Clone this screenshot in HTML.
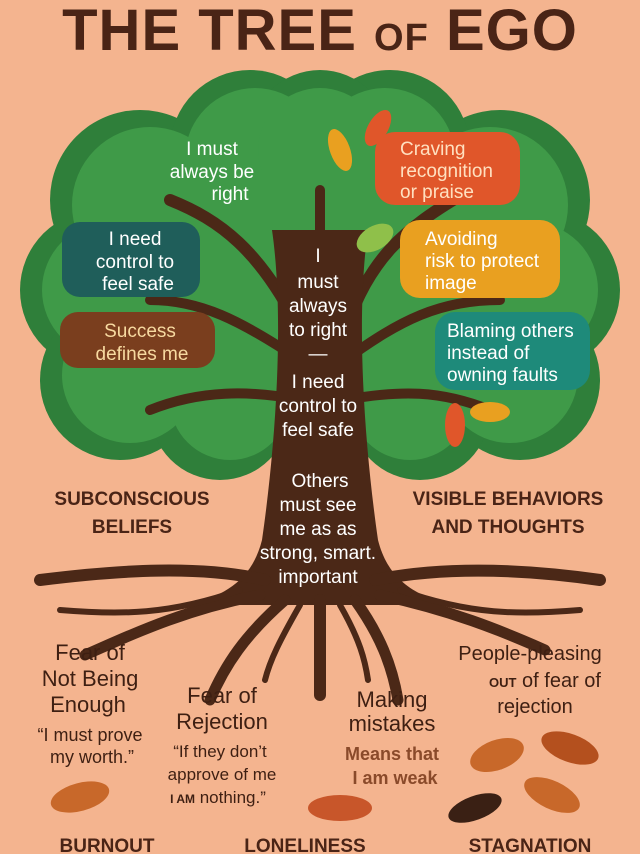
<!DOCTYPE html>
<html><head><meta charset="utf-8"><style>
html,body{margin:0;padding:0;background:#f4b48f;}
svg{display:block}
text{font-family:"Liberation Sans",sans-serif;}
</style></head><body>
<svg width="640" height="854" viewBox="0 0 640 854" xmlns="http://www.w3.org/2000/svg">
<rect width="640" height="854" fill="#f4b48f"/>
<text x="320" y="50" text-anchor="middle" font-size="58" font-weight="bold" fill="#4a2416" letter-spacing="1">THE TREE <tspan font-size="38">OF</tspan> EGO</text>
<g fill="#2f7f3a">
<circle cx="140" cy="200" r="90"/><circle cx="100" cy="290" r="80"/><circle cx="120" cy="380" r="80"/>
<circle cx="500" cy="200" r="90"/><circle cx="540" cy="290" r="80"/><circle cx="520" cy="380" r="80"/>
<circle cx="250" cy="150" r="80"/><circle cx="390" cy="150" r="80"/><circle cx="320" cy="140" r="70"/>
<circle cx="220" cy="410" r="70"/><circle cx="420" cy="410" r="70"/><rect x="60" y="160" width="520" height="270"/>
</g>
<g fill="#3f9a48">
<circle cx="150" cy="205" r="78"/><circle cx="110" cy="290" r="68"/><circle cx="130" cy="375" r="68"/>
<circle cx="490" cy="205" r="78"/><circle cx="530" cy="290" r="68"/><circle cx="510" cy="375" r="68"/>
<circle cx="255" cy="158" r="70"/><circle cx="385" cy="158" r="70"/><circle cx="320" cy="150" r="62"/>
<circle cx="230" cy="400" r="60"/><circle cx="410" cy="400" r="60"/><rect x="80" y="170" width="480" height="250"/>
</g>
<g stroke="#4b2817" fill="none" stroke-linecap="round">
<path d="M300 330 C260 250 220 220 170 200" stroke-width="12"/>
<path d="M300 360 C240 320 200 300 150 300" stroke-width="10"/>
<path d="M300 400 C250 390 200 390 150 410" stroke-width="10"/>
<path d="M345 330 C370 260 400 230 470 190" stroke-width="12"/>
<path d="M345 360 C400 320 440 300 500 300" stroke-width="10"/>
<path d="M345 400 C400 390 440 390 490 410" stroke-width="10"/>
<path d="M320 260 L320 190" stroke-width="10"/>
</g>
<path d="M272 230 C285 320 275 450 262 540 C252 580 225 595 190 605 L450 605 C415 595 388 580 378 540 C365 450 355 320 368 230 Z" fill="#4b2817"/>
<g stroke="#4b2817" fill="none" stroke-linecap="round">
<path d="M265 580 C200 565 120 570 40 580" stroke-width="12"/>
<path d="M260 595 C180 610 120 640 85 655" stroke-width="11"/>
<path d="M285 600 C245 635 225 665 210 700" stroke-width="11"/>
<path d="M320 600 L320 695" stroke-width="12"/>
<path d="M355 600 C380 635 392 665 398 700" stroke-width="11"/>
<path d="M380 595 C450 610 500 630 545 650" stroke-width="11"/>
<path d="M375 580 C450 565 530 570 600 580" stroke-width="12"/>
<path d="M240 590 C170 615 120 615 60 610" stroke-width="6"/>
<path d="M400 590 C470 615 520 615 580 610" stroke-width="6"/>
<path d="M300 605 C280 640 270 660 265 680" stroke-width="6"/>
<path d="M340 605 C360 640 365 660 368 680" stroke-width="6"/>
</g>
<rect x="62" y="222" width="138" height="75" rx="18" fill="#1f5e5a"/>
<rect x="60" y="312" width="155" height="56" rx="18" fill="#7a3e1e"/>
<rect x="375" y="132" width="145" height="73" rx="20" fill="#e0562a"/>
<rect x="400" y="220" width="160" height="78" rx="20" fill="#e9a020"/>
<rect x="435" y="312" width="155" height="78" rx="20" fill="#1e8a7a"/>
<g>
<ellipse cx="378" cy="128" rx="10" ry="20" fill="#e0562a" transform="rotate(30 378 128)"/>
<ellipse cx="340" cy="150" rx="10" ry="22" fill="#e9a020" transform="rotate(-20 340 150)"/>
<ellipse cx="375" cy="238" rx="20" ry="12" fill="#8fc04a" transform="rotate(-30 375 238)"/>
<ellipse cx="455" cy="425" rx="10" ry="22" fill="#e0562a"/>
<ellipse cx="490" cy="412" rx="20" ry="10" fill="#e9a020"/>
<ellipse cx="80" cy="797" rx="30" ry="14" fill="#c8682a" transform="rotate(-15 80 797)"/>
<ellipse cx="340" cy="808" rx="32" ry="13" fill="#c8562a"/>
<ellipse cx="497" cy="755" rx="28" ry="15" fill="#c8682a" transform="rotate(-20 497 755)"/>
<ellipse cx="570" cy="748" rx="30" ry="14" fill="#b4501e" transform="rotate(20 570 748)"/>
<ellipse cx="475" cy="808" rx="28" ry="12" fill="#3a2014" transform="rotate(-20 475 808)"/>
<ellipse cx="552" cy="795" rx="30" ry="14" fill="#c8682a" transform="rotate(25 552 795)"/>
</g>
<g fill="#fff" font-size="19" text-anchor="middle">
<text x="212" y="155">I must</text><text x="212" y="178">always be</text><text x="230" y="200">right</text>
<text x="135" y="245">I need</text><text x="135" y="268">control to</text><text x="138" y="290">feel safe</text>
<text fill="#f7d9a0" x="140" y="337">Success</text><text fill="#f7d9a0" x="142" y="360">defines me</text>
<text fill="#ffe0c0" x="400" y="155" text-anchor="start">Craving</text><text fill="#ffe0c0" x="400" y="177" text-anchor="start">recognition</text><text fill="#ffe0c0" x="400" y="198" text-anchor="start">or praise</text>
<text x="425" y="245" text-anchor="start">Avoiding</text><text x="425" y="267" text-anchor="start">risk to protect</text><text x="425" y="289" text-anchor="start">image</text>
<text x="447" y="337" text-anchor="start">Blaming others</text><text x="447" y="359" text-anchor="start">instead of</text><text x="447" y="381" text-anchor="start">owning faults</text>
<text x="318" y="262">I</text><text x="318" y="288">must</text><text x="318" y="312">always</text><text x="318" y="336">to right</text>
<text x="318" y="360">—</text>
<text x="318" y="388">I need</text><text x="318" y="412">control to</text><text x="318" y="436">feel safe</text>
<text x="320" y="487">Others</text><text x="318" y="511">must see</text><text x="318" y="535">me as as</text><text x="318" y="559">strong, smart.</text><text x="318" y="583">important</text>
</g>
<g fill="#4a2416" font-weight="bold" font-size="19" text-anchor="middle">
<text x="132" y="505">SUBCONSCIOUS</text><text x="132" y="533">BELIEFS</text>
<text x="508" y="505">VISIBLE BEHAVIORS</text><text x="508" y="533">AND THOUGHTS</text>
<text x="107" y="852">BURNOUT</text><text x="305" y="852">LONELINESS</text><text x="530" y="852">STAGNATION</text>
</g>
<g fill="#3e1f12" font-size="22" text-anchor="middle">
<text x="90" y="660">Fear of</text><text x="90" y="686">Not Being</text><text x="88" y="712">Enough</text>
<text x="222" y="703">Fear of</text><text x="222" y="729">Rejection</text>
<text x="392" y="707">Making</text><text x="392" y="731">mistakes</text>
<text x="530" y="660" font-size="20">People-pleasing</text><text x="545" y="687" font-size="20"><tspan font-size="13" font-weight="bold">OUT</tspan> of fear of</text><text x="535" y="713" font-size="20">rejection</text>
</g>
<g fill="#3e1f12" font-size="18" text-anchor="middle">
<text x="90" y="741">“I must prove</text><text x="92" y="763">my worth.”</text>
<text x="220" y="757" font-size="17">“If they don’t</text><text x="222" y="780" font-size="17">approve of me</text><text x="218" y="803" font-size="17"><tspan font-size="12" font-weight="bold">I AM</tspan> nothing.”</text>
<text x="392" y="760" font-family="Liberation Serif,serif" fill="#8a4a2a" font-weight="bold">Means that</text><text x="395" y="784" font-family="Liberation Serif,serif" fill="#8a4a2a" font-weight="bold">I am weak</text>
</g>
</svg>
</body></html>
